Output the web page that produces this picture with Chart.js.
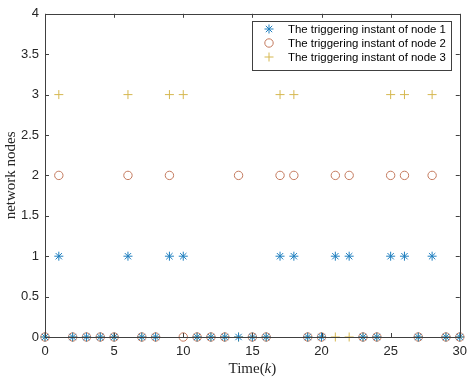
<!DOCTYPE html>
<html>
<head>
<meta charset="utf-8">
<script src="https://cdn.jsdelivr.net/npm/chart.js@4/dist/chart.umd.min.js"></script>
<style>
html,body{margin:0;padding:0;background:#fff;}
#wrap{width:474px;height:382px;}
</style>
</head>
<body>
<div id="wrap"><canvas id="c" width="474" height="382"></canvas></div>
<script>
const timeSteps = [0,1,2,3,4,5,6,7,8,9,10,11,12,13,14,15,16,17,18,19,20,21,22,23,24,25,26,27,28,29,30];
const node1 = [0,1,0,0,0,0,1,0,0,1,1,0,0,0,0,0,0,1,1,0,0,1,1,0,0,1,1,0,1,0,0];
const node2 = [0,2,0,0,0,0,2,0,0,2,0,0,0,0,2,0,0,2,2,0,0,2,2,0,0,2,2,0,2,0,0];
const node3 = [0,3,0,0,0,0,3,0,0,3,3,0,0,0,0,0,0,3,3,0,0,0,0,0,0,3,3,0,3,0,0];
const seriesLabels = ['The triggering instant of node 1','The triggering instant of node 2','The triggering instant of node 3'];
const xTicks = [0,5,10,15,20,25,30];
const yTicks = [0,0.5,1,1.5,2,2.5,3,3.5,4];

const colors = ['#1f7fbf','#c47a5e','#d6b850'];
const styles = ['star','circle','cross'];
const series = [node1,node2,node3];

const datasets = series.map((vals,i)=>({
  label: seriesLabels[i],
  data: timeSteps.map((t,j)=>({x:t,y:vals[j]})),
  pointStyle: styles[i],
  pointRadius: i===1?4.2:4.5,
  pointBorderColor: colors[i],
  pointBackgroundColor: 'rgba(0,0,0,0)',
  pointBorderWidth: 1,
  showLine: false,
  clip: false
}));

const AX = '#404040';
const boxPlugin = {
  id:'box',
  afterDraw(chart){
    const ctx = chart.ctx, a = chart.chartArea;
    const xs = chart.scales.x, ys = chart.scales.y;
    ctx.save();
    ctx.strokeStyle = AX; ctx.lineWidth = 1;
    ctx.beginPath();
    ctx.rect(Math.round(a.left)+0.5, Math.round(a.top)+0.5, Math.round(a.right-a.left), Math.round(a.bottom-a.top));
    ctx.stroke();
    const tl = 4;
    ctx.beginPath();
    xTicks.forEach(v=>{
      const px = Math.round(xs.getPixelForValue(v))+0.5;
      ctx.moveTo(px,a.bottom); ctx.lineTo(px,a.bottom-tl);
      ctx.moveTo(px,a.top); ctx.lineTo(px,a.top+tl);
    });
    yTicks.forEach(v=>{
      const py = Math.round(ys.getPixelForValue(v))+0.5;
      ctx.moveTo(a.left,py); ctx.lineTo(a.left+tl,py);
      ctx.moveTo(a.right,py); ctx.lineTo(a.right-tl,py);
    });
    ctx.stroke();

    // x title with italic k
    ctx.fillStyle = '#262626';
    ctx.textBaseline = 'middle';
    const f1 = '15px "Liberation Serif", "Times New Roman", serif';
    const f2 = 'italic 15px "Liberation Serif", "Times New Roman", serif';
    const parts = [['Time(',f1],['k',f2],[')',f1]];
    let w = 0;
    parts.forEach(p=>{ctx.font=p[1]; w+=ctx.measureText(p[0]).width;});
    let x = (a.left+a.right)/2 - w/2;
    const ty = 369;
    ctx.textAlign = 'left';
    parts.forEach(p=>{ctx.font=p[1]; ctx.fillText(p[0],x,ty); x+=ctx.measureText(p[0]).width;});

    // y title
    ctx.save();
    ctx.translate(11,(a.top+a.bottom)/2);
    ctx.rotate(-Math.PI/2);
    ctx.textAlign='center';
    ctx.font = f1;
    ctx.fillText('network nodes',0,0);
    ctx.restore();

    // legend
    const lx = 252.5, ly = 21.5, lw = 199, lh = 49;
    ctx.fillStyle = '#fff';
    ctx.fillRect(lx,ly,lw,lh);
    ctx.strokeStyle = AX;
    ctx.strokeRect(lx,ly,lw,lh);
    let fs = 12;
    ctx.font = fs+'px "Liberation Sans", Arial, sans-serif';
    const tw = ctx.measureText(seriesLabels[0]).width;
    fs = Math.min(12, fs*158/tw);
    ctx.font = fs.toFixed(2)+'px "Liberation Sans", Arial, sans-serif';
    ctx.textAlign='left';
    ctx.textBaseline='middle';
    const rows = [29,43,57];
    chart.data.datasets.forEach((ds,i)=>{
      const cy = rows[i];
      ctx.lineWidth = 1;
      ctx.strokeStyle = colors[i];
      ctx.fillStyle = 'rgba(0,0,0,0)';
      Chart.helpers.drawPoint(ctx,{pointStyle:ds.pointStyle,radius:ds.pointRadius,borderWidth:1,rotation:0},269,cy);
      ctx.fillStyle='#000';
      ctx.fillText(ds.label,288,cy+0.5);
    });
    ctx.restore();
  }
};

new Chart(document.getElementById('c'),{
  type:'scatter',
  data:{datasets},
  plugins:[boxPlugin],
  options:{
    responsive:false,
    animation:false,
    devicePixelRatio:1,
    layout:{padding:{top:8,right:11,left:0,bottom:0}},
    plugins:{legend:{display:false},tooltip:{enabled:false}},
    scales:{
      x:{
        type:'linear',min:0,max:30,
        afterFit(s){s.height=45;},
        afterBuildTicks(s){s.ticks = xTicks.map(v=>({value:v}));},
        grid:{display:false,drawTicks:false},
        border:{display:false},
        ticks:{color:'#262626',padding:7,font:{family:'"Liberation Sans", Arial, sans-serif',size:13},maxRotation:0,
          callback:(v)=>String(v)}
      },
      y:{
        type:'linear',min:0,max:4,
        afterFit(s){s.width=45;},
        afterBuildTicks(s){s.ticks = yTicks.map(v=>({value:v}));},
        grid:{display:false,drawTicks:false},
        border:{display:false},
        ticks:{color:'#262626',padding:6,font:{family:'"Liberation Sans", Arial, sans-serif',size:13},
          callback:(v)=>String(v)}
      }
    }
  }
});
</script>
</body>
</html>
